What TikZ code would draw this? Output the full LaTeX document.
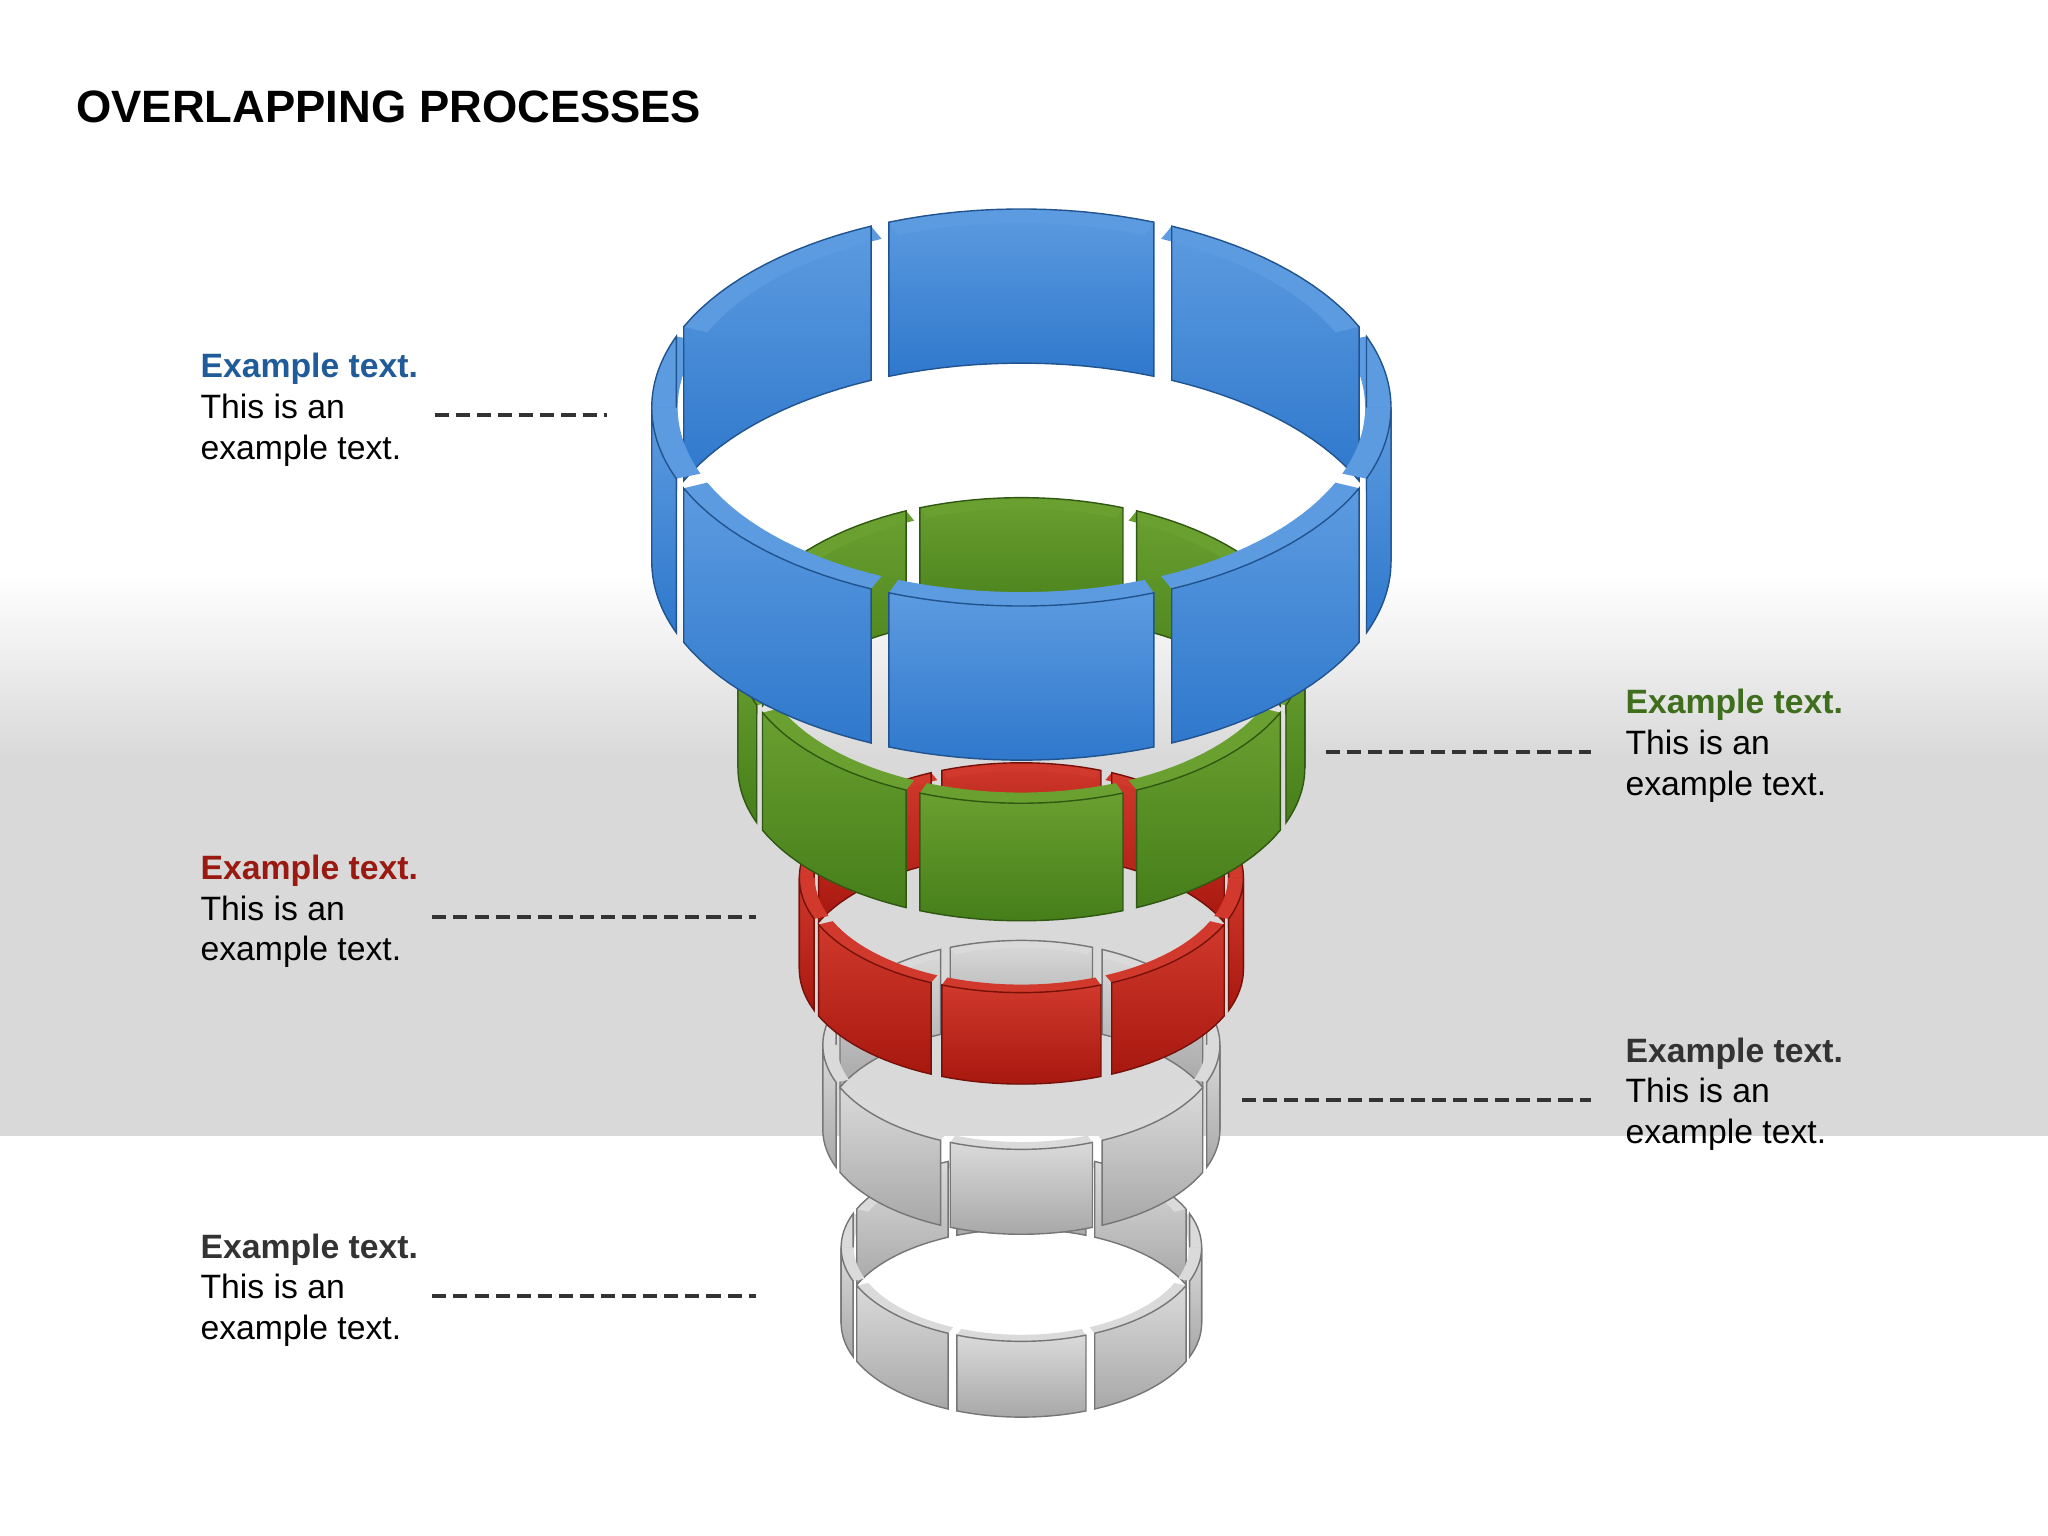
\documentclass[tikz,border=0pt]{standalone}
\usepackage{fontspec}
\setmainfont{Liberation Sans}
\begin{document}
\newcommand\rseg[9]{% cx cy rx ry h a1 a2 base light
  \fill[top color=#9,bottom color=#8] plot[domain=#6:#7,samples=16] ({#1+#3*cos(\x)},{#2+#4*sin(\x)}) -- plot[domain=#7:#6,samples=16] ({#1+#3*cos(\x)},{#2+#5+#4*sin(\x)}) -- cycle;
  \fill[#9] plot[domain=#6:#7,samples=16] ({#1+#3*cos(\x)},{#2+#4*sin(\x)}) -- plot[domain=#7:#6,samples=16] ({#1+0.93*#3*cos(\x)},{#2+0.93*#4*sin(\x)}) -- cycle;
  \draw[#8!70!black,line width=0.4pt] plot[domain=#6:#7,samples=16] ({#1+#3*cos(\x)},{#2+#4*sin(\x)}) -- plot[domain=#7:#6,samples=16] ({#1+#3*cos(\x)},{#2+#5+#4*sin(\x)}) -- cycle;
}
\newcommand\rring[7]{% cx cy rx ry h base light
  \foreach \sa/\sb in {180/201,339/360,204/246,249/291,294/336,159/180,0/21,24/66,114/156,69/111}{\rseg{#1}{#2}{#3}{#4}{#5}{\sa}{\sb}{#6}{#7}}
}
\definecolor{bl}{HTML}{2F78CC}\definecolor{blL}{HTML}{5C9BE0}
\definecolor{gr}{HTML}{467E1A}\definecolor{grL}{HTML}{6AA030}
\definecolor{rd}{HTML}{A8180F}\definecolor{rdL}{HTML}{D0392C}
\definecolor{gy}{HTML}{A8A8A8}\definecolor{gyL}{HTML}{DADADA}
\definecolor{tb}{HTML}{1F5C99}\definecolor{tg}{HTML}{3F6E1C}\definecolor{tr}{HTML}{9A1A12}\definecolor{tk}{HTML}{333333}
\begin{tikzpicture}[x=0.01306cm,y=-0.01306cm,
  lab/.style={anchor=north west,align=left,font=\fontsize{9.6}{11.6}\selectfont,text=black,inner sep=0},
  dline/.style={draw=tk,dash pattern=on 4pt off 2pt,line width=1.2pt}]
\useasboundingbox (0,0) rectangle (1568,1176);
\fill[white] (0,0) rectangle (1568,1176);
\fill[top color=white,bottom color=black!15] (0,440) rectangle (1568,580);
\fill[black!15] (0,579) rectangle (1568,870);
\node[anchor=west,inner sep=0,font=\bfseries\fontsize{12.9}{15}\selectfont] (title) at (58,82) {OVERLAPPING PROCESSES};
\rring{782}{955}{138}{72}{58}{gy}{gyL}
\rring{782}{800}{152}{80}{65}{gy}{gyL}
\rring{782}{672}{170}{88}{70}{rd}{rdL}
\rring{782}{498}{217}{117}{90}{gr}{grL}
\rring{782}{312}{283}{152}{118}{bl}{blL}
\node[lab] (t1) at (153,270) {\textcolor{tb}{\bfseries Example text.}\\This is an\\example text.};
\node[lab] (t2) at (1244,527) {\textcolor{tg}{\bfseries Example text.}\\This is an\\example text.};
\node[lab] (t3) at (153,654) {\textcolor{tr}{\bfseries Example text.}\\This is an\\example text.};
\node[lab] (t4) at (1244,794) {\textcolor{tk}{\bfseries Example text.}\\This is an\\example text.};
\node[lab] (t5) at (153,944) {\textcolor{tk}{\bfseries Example text.}\\This is an\\example text.};
\coordinate (a1) at (333,318); \coordinate (b1) at (465,318);
\coordinate (a2) at (1015,576); \coordinate (b2) at (1218,576);
\coordinate (a3) at (331,702); \coordinate (b3) at (579,702);
\coordinate (a4) at (951,842); \coordinate (b4) at (1218,842);
\coordinate (a5) at (331,992); \coordinate (b5) at (579,992);
\foreach \i in {1,...,5}{\draw[dline] (a\i) -- (b\i);}
\end{tikzpicture}
\end{document}
